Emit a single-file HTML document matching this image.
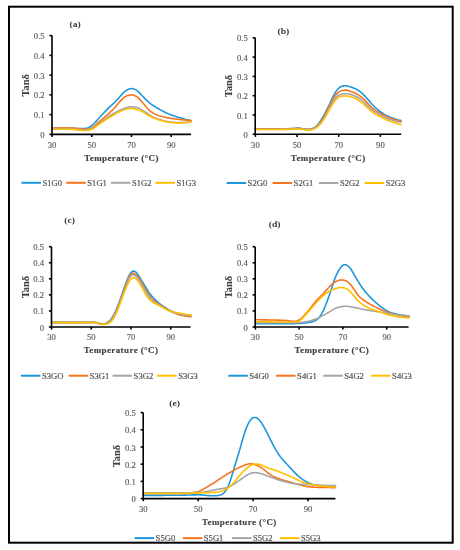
<!DOCTYPE html>
<html><head><meta charset="utf-8"><style>
html,body{margin:0;padding:0;background:#fff;width:460px;height:550px;overflow:hidden}
svg{display:block}
.tk{font-family:"Liberation Serif",serif;font-size:8.6px;fill:#595959;stroke:#595959;stroke-width:0.15px}
.ti{font-family:"Liberation Serif",serif;font-size:9.0px;font-weight:bold;letter-spacing:0.4px;fill:#404040;stroke:#404040;stroke-width:0.15px}
.tn{font-family:"Liberation Serif",serif;font-size:10.3px;font-weight:bold;fill:#404040;stroke:#404040;stroke-width:0.1px}
.lb{font-family:"Liberation Serif",serif;font-size:9.7px;font-weight:bold;fill:#3a3a3a}
.lg{font-family:"Liberation Serif",serif;font-size:8.6px;fill:#595959;stroke:#595959;stroke-width:0.22px}
</style></head><body>
<svg width="460" height="550" viewBox="0 0 460 550">
<defs><filter id="bl" x="0" y="0" width="460" height="550" filterUnits="userSpaceOnUse"><feGaussianBlur stdDeviation="0.4"/></filter></defs>
<g filter="url(#bl)">
<rect x="0" y="0" width="460" height="550" fill="#fff"/>
<path d="M52.00 128.29L53.00 128.28L54.00 128.27L55.00 128.25L56.00 128.24L57.00 128.23L58.00 128.22L59.00 128.21L60.00 128.21L61.00 128.20L62.00 128.20L63.00 128.20L64.00 128.21L65.00 128.21L66.00 128.22L67.00 128.23L68.00 128.24L69.00 128.26L70.00 128.27L71.00 128.29L72.00 128.31L73.00 128.34L74.00 128.37L75.00 128.42L76.00 128.46L77.00 128.51L78.00 128.55L79.00 128.57L80.00 128.58L81.00 128.58L82.00 128.56L83.00 128.53L84.00 128.49L85.00 128.42L86.00 128.29L87.00 128.07L88.00 127.73L89.00 127.28L90.00 126.73L91.00 126.09L92.00 125.34L93.00 124.48L94.00 123.51L95.00 122.46L96.00 121.36L97.00 120.26L98.00 119.17L99.00 118.08L100.00 116.99L101.00 115.90L102.00 114.82L103.00 113.75L104.00 112.69L105.00 111.65L106.00 110.62L107.00 109.60L108.00 108.60L109.00 107.61L110.00 106.65L111.00 105.72L112.00 104.81L113.00 103.90L114.00 102.98L115.00 102.03L116.00 101.03L117.00 99.96L118.00 98.84L119.00 97.68L120.00 96.52L121.00 95.36L122.00 94.24L123.00 93.17L124.00 92.20L125.00 91.33L126.00 90.57L127.00 89.93L128.00 89.42L129.00 89.05L130.00 88.80L131.00 88.67L132.00 88.65L133.00 88.76L134.00 89.00L135.00 89.38L136.00 89.92L137.00 90.61L138.00 91.44L139.00 92.36L140.00 93.34L141.00 94.37L142.00 95.43L143.00 96.52L144.00 97.60L145.00 98.64L146.00 99.65L147.00 100.61L148.00 101.53L149.00 102.41L150.00 103.24L151.00 104.02L152.00 104.76L153.00 105.46L154.00 106.13L155.00 106.77L156.00 107.37L157.00 107.96L158.00 108.52L159.00 109.06L160.00 109.60L161.00 110.13L162.00 110.65L163.00 111.18L164.00 111.69L165.00 112.20L166.00 112.69L167.00 113.17L168.00 113.63L169.00 114.06L170.00 114.48L171.00 114.87L172.00 115.24L173.00 115.60L174.00 115.94L175.00 116.27L176.00 116.59L177.00 116.90L178.00 117.21L179.00 117.50L180.00 117.79L181.00 118.08L182.00 118.36L183.00 118.63L184.00 118.90L185.00 119.16L186.00 119.42L187.00 119.67L188.00 119.91L189.00 120.13L190.00 120.33L191.00 120.47" fill="none" stroke="#1E98DA" stroke-width="1.60" stroke-linejoin="round" stroke-linecap="round"/>
<path d="M52.00 128.00L53.00 128.00L54.00 128.00L55.00 128.00L56.00 128.00L57.00 128.00L58.00 128.00L59.00 128.00L60.00 128.00L61.00 128.00L62.00 128.00L63.00 128.00L64.00 128.00L65.00 128.00L66.00 128.00L67.00 128.00L68.00 128.00L69.00 128.00L70.00 128.00L71.00 128.01L72.00 128.02L73.00 128.06L74.00 128.12L75.00 128.21L76.00 128.31L77.00 128.43L78.00 128.56L79.00 128.68L80.00 128.80L81.00 128.92L82.00 129.04L83.00 129.16L84.00 129.27L85.00 129.36L86.00 129.41L87.00 129.39L88.00 129.28L89.00 129.07L90.00 128.76L91.00 128.35L92.00 127.83L93.00 127.17L94.00 126.36L95.00 125.46L96.00 124.51L97.00 123.57L98.00 122.68L99.00 121.82L100.00 120.99L101.00 120.16L102.00 119.33L103.00 118.49L104.00 117.65L105.00 116.79L106.00 115.92L107.00 115.05L108.00 114.17L109.00 113.28L110.00 112.38L111.00 111.46L112.00 110.51L113.00 109.52L114.00 108.49L115.00 107.40L116.00 106.23L117.00 105.01L118.00 103.76L119.00 102.55L120.00 101.40L121.00 100.33L122.00 99.34L123.00 98.43L124.00 97.62L125.00 96.91L126.00 96.30L127.00 95.79L128.00 95.40L129.00 95.13L130.00 94.97L131.00 94.91L132.00 94.93L133.00 95.05L134.00 95.29L135.00 95.67L136.00 96.19L137.00 96.86L138.00 97.67L139.00 98.59L140.00 99.59L141.00 100.67L142.00 101.83L143.00 103.03L144.00 104.26L145.00 105.48L146.00 106.67L147.00 107.84L148.00 108.94L149.00 109.95L150.00 110.85L151.00 111.63L152.00 112.31L153.00 112.91L154.00 113.46L155.00 113.96L156.00 114.43L157.00 114.87L158.00 115.27L159.00 115.64L160.00 115.96L161.00 116.26L162.00 116.53L163.00 116.79L164.00 117.02L165.00 117.25L166.00 117.46L167.00 117.66L168.00 117.84L169.00 118.02L170.00 118.19L171.00 118.35L172.00 118.50L173.00 118.64L174.00 118.78L175.00 118.91L176.00 119.03L177.00 119.15L178.00 119.27L179.00 119.38L180.00 119.50L181.00 119.61L182.00 119.72L183.00 119.83L184.00 119.93L185.00 120.04L186.00 120.14L187.00 120.23L188.00 120.33L189.00 120.42L190.00 120.49L191.00 120.55" fill="none" stroke="#F7751E" stroke-width="1.60" stroke-linejoin="round" stroke-linecap="round"/>
<path d="M52.00 129.00L53.00 129.00L54.00 129.00L55.00 129.00L56.00 129.00L57.00 129.00L58.00 129.00L59.00 129.00L60.00 129.00L61.00 129.00L62.00 129.00L63.00 129.00L64.00 129.00L65.00 129.00L66.00 129.00L67.00 129.00L68.00 129.00L69.00 129.00L70.00 129.00L71.00 129.01L72.00 129.03L73.00 129.07L74.00 129.14L75.00 129.24L76.00 129.36L77.00 129.49L78.00 129.60L79.00 129.70L80.00 129.78L81.00 129.83L82.00 129.88L83.00 129.92L84.00 129.94L85.00 129.96L86.00 129.96L87.00 129.93L88.00 129.83L89.00 129.66L90.00 129.41L91.00 129.08L92.00 128.65L93.00 128.10L94.00 127.43L95.00 126.66L96.00 125.85L97.00 125.05L98.00 124.26L99.00 123.50L100.00 122.75L101.00 122.00L102.00 121.26L103.00 120.53L104.00 119.82L105.00 119.11L106.00 118.41L107.00 117.71L108.00 117.02L109.00 116.33L110.00 115.66L111.00 115.00L112.00 114.37L113.00 113.76L114.00 113.18L115.00 112.63L116.00 112.10L117.00 111.59L118.00 111.09L119.00 110.62L120.00 110.16L121.00 109.72L122.00 109.31L123.00 108.92L124.00 108.55L125.00 108.21L126.00 107.88L127.00 107.56L128.00 107.27L129.00 107.04L130.00 106.88L131.00 106.80L132.00 106.79L133.00 106.84L134.00 106.95L135.00 107.09L136.00 107.28L137.00 107.54L138.00 107.89L139.00 108.32L140.00 108.83L141.00 109.40L142.00 110.01L143.00 110.64L144.00 111.28L145.00 111.92L146.00 112.59L147.00 113.27L148.00 113.95L149.00 114.61L150.00 115.24L151.00 115.82L152.00 116.36L153.00 116.86L154.00 117.33L155.00 117.77L156.00 118.18L157.00 118.57L158.00 118.93L159.00 119.27L160.00 119.58L161.00 119.88L162.00 120.16L163.00 120.44L164.00 120.70L165.00 120.96L166.00 121.19L167.00 121.40L168.00 121.58L169.00 121.74L170.00 121.88L171.00 122.00L172.00 122.10L173.00 122.20L174.00 122.29L175.00 122.37L176.00 122.44L177.00 122.50L178.00 122.54L179.00 122.57L180.00 122.58L181.00 122.57L182.00 122.54L183.00 122.49L184.00 122.42L185.00 122.34L186.00 122.24L187.00 122.12L188.00 121.98L189.00 121.84L190.00 121.71L191.00 121.60" fill="none" stroke="#A5A5A5" stroke-width="1.60" stroke-linejoin="round" stroke-linecap="round"/>
<path d="M52.00 129.30L53.00 129.30L54.00 129.30L55.00 129.30L56.00 129.30L57.00 129.30L58.00 129.30L59.00 129.30L60.00 129.30L61.00 129.30L62.00 129.30L63.00 129.30L64.00 129.30L65.00 129.30L66.00 129.30L67.00 129.30L68.00 129.30L69.00 129.30L70.00 129.30L71.00 129.31L72.00 129.33L73.00 129.38L74.00 129.46L75.00 129.57L76.00 129.70L77.00 129.83L78.00 129.97L79.00 130.08L80.00 130.18L81.00 130.25L82.00 130.32L83.00 130.37L84.00 130.41L85.00 130.45L86.00 130.45L87.00 130.42L88.00 130.31L89.00 130.12L90.00 129.86L91.00 129.51L92.00 129.09L93.00 128.57L94.00 127.96L95.00 127.28L96.00 126.55L97.00 125.82L98.00 125.10L99.00 124.39L100.00 123.68L101.00 122.96L102.00 122.26L103.00 121.56L104.00 120.88L105.00 120.22L106.00 119.57L107.00 118.92L108.00 118.29L109.00 117.67L110.00 117.06L111.00 116.46L112.00 115.88L113.00 115.31L114.00 114.75L115.00 114.20L116.00 113.66L117.00 113.12L118.00 112.58L119.00 112.05L120.00 111.54L121.00 111.06L122.00 110.61L123.00 110.21L124.00 109.85L125.00 109.54L126.00 109.26L127.00 109.02L128.00 108.81L129.00 108.64L130.00 108.53L131.00 108.49L132.00 108.53L133.00 108.63L134.00 108.80L135.00 109.03L136.00 109.30L137.00 109.60L138.00 109.93L139.00 110.27L140.00 110.65L141.00 111.07L142.00 111.55L143.00 112.08L144.00 112.66L145.00 113.28L146.00 113.91L147.00 114.54L148.00 115.15L149.00 115.72L150.00 116.25L151.00 116.75L152.00 117.22L153.00 117.66L154.00 118.08L155.00 118.48L156.00 118.86L157.00 119.22L158.00 119.56L159.00 119.88L160.00 120.18L161.00 120.47L162.00 120.74L163.00 121.01L164.00 121.26L165.00 121.50L166.00 121.73L167.00 121.93L168.00 122.10L169.00 122.25L170.00 122.38L171.00 122.48L172.00 122.58L173.00 122.66L174.00 122.74L175.00 122.81L176.00 122.87L177.00 122.92L178.00 122.95L179.00 122.97L180.00 122.98L181.00 122.96L182.00 122.93L183.00 122.88L184.00 122.80L185.00 122.71L186.00 122.59L187.00 122.46L188.00 122.32L189.00 122.16L190.00 122.02L191.00 121.91" fill="none" stroke="#FFBF00" stroke-width="1.60" stroke-linejoin="round" stroke-linecap="round"/>
<path d="M52.00 35.60 V134.40 H191.09" fill="none" stroke="#000" stroke-width="1.60"/>
<path d="M49.40 134.40 H52.00" stroke="#000" stroke-width="1.60"/>
<text transform="translate(44.60 137.90) scale(1 1.0)" text-anchor="end" class="tk">0</text>
<path d="M49.40 114.64 H52.00" stroke="#000" stroke-width="1.60"/>
<text transform="translate(44.60 118.14) scale(1 1.0)" text-anchor="end" class="tk">0.1</text>
<path d="M49.40 94.88 H52.00" stroke="#000" stroke-width="1.60"/>
<text transform="translate(44.60 98.38) scale(1 1.0)" text-anchor="end" class="tk">0.2</text>
<path d="M49.40 75.12 H52.00" stroke="#000" stroke-width="1.60"/>
<text transform="translate(44.60 78.62) scale(1 1.0)" text-anchor="end" class="tk">0.3</text>
<path d="M49.40 55.36 H52.00" stroke="#000" stroke-width="1.60"/>
<text transform="translate(44.60 58.86) scale(1 1.0)" text-anchor="end" class="tk">0.4</text>
<path d="M49.40 35.60 H52.00" stroke="#000" stroke-width="1.60"/>
<text transform="translate(44.60 39.10) scale(1 1.0)" text-anchor="end" class="tk">0.5</text>
<path d="M52.00 134.40 V137.00" stroke="#000" stroke-width="1.60"/>
<text transform="translate(52.00 147.60) scale(1 1.0)" text-anchor="middle" class="tk">30</text>
<path d="M91.74 134.40 V137.00" stroke="#000" stroke-width="1.60"/>
<text transform="translate(91.74 147.60) scale(1 1.0)" text-anchor="middle" class="tk">50</text>
<path d="M131.48 134.40 V137.00" stroke="#000" stroke-width="1.60"/>
<text transform="translate(131.48 147.60) scale(1 1.0)" text-anchor="middle" class="tk">70</text>
<path d="M171.22 134.40 V137.00" stroke="#000" stroke-width="1.60"/>
<text transform="translate(171.22 147.60) scale(1 1.0)" text-anchor="middle" class="tk">90</text>
<text transform="translate(121.55 160.90) scale(1 1.0)" text-anchor="middle" class="ti">Temperature (°C)</text>
<text transform="translate(28.90 85.30) rotate(-90)" text-anchor="middle" class="tn">Tan&#948;</text>
<text transform="translate(69.50 27.00) scale(1 0.95)" class="lb">(a)</text>
<path d="M21.50 182.80 H41.00" stroke="#1E98DA" stroke-width="2"/>
<text transform="translate(42.50 185.60) scale(1 1.0)" class="lg">S1G0</text>
<path d="M66.30 182.80 H85.80" stroke="#F7751E" stroke-width="2"/>
<text transform="translate(87.30 185.60) scale(1 1.0)" class="lg">S1G1</text>
<path d="M111.00 182.80 H130.50" stroke="#A5A5A5" stroke-width="2"/>
<text transform="translate(132.00 185.60) scale(1 1.0)" class="lg">S1G2</text>
<path d="M155.40 182.80 H174.90" stroke="#FFBF00" stroke-width="2"/>
<text transform="translate(176.40 185.60) scale(1 1.0)" class="lg">S1G3</text>
<path d="M255.40 128.80L256.40 128.80L257.40 128.80L258.40 128.80L259.40 128.80L260.40 128.80L261.40 128.80L262.40 128.80L263.40 128.80L264.40 128.80L265.40 128.80L266.40 128.80L267.40 128.80L268.40 128.80L269.40 128.80L270.40 128.80L271.40 128.80L272.40 128.80L273.40 128.80L274.40 128.80L275.40 128.80L276.40 128.80L277.40 128.79L278.40 128.79L279.40 128.79L280.40 128.78L281.40 128.77L282.40 128.76L283.40 128.75L284.40 128.74L285.40 128.72L286.40 128.71L287.40 128.69L288.40 128.68L289.40 128.65L290.40 128.63L291.40 128.60L292.40 128.54L293.40 128.46L294.40 128.35L295.40 128.24L296.40 128.15L297.40 128.10L298.40 128.11L299.40 128.20L300.40 128.34L301.40 128.51L302.40 128.67L303.40 128.82L304.40 128.95L305.40 129.06L306.40 129.14L307.40 129.21L308.40 129.22L309.40 129.17L310.40 129.04L311.40 128.81L312.40 128.49L313.40 128.07L314.40 127.55L315.40 126.87L316.40 126.02L317.40 124.97L318.40 123.77L319.40 122.45L320.40 121.04L321.40 119.53L322.40 117.91L323.40 116.21L324.40 114.43L325.40 112.59L326.40 110.68L327.40 108.70L328.40 106.65L329.40 104.51L330.40 102.30L331.40 100.07L332.40 97.92L333.40 95.90L334.40 94.04L335.40 92.36L336.40 90.87L337.40 89.60L338.40 88.54L339.40 87.69L340.40 87.00L341.40 86.47L342.40 86.11L343.40 85.88L344.40 85.75L345.40 85.71L346.40 85.76L347.40 85.93L348.40 86.21L349.40 86.55L350.40 86.91L351.40 87.26L352.40 87.61L353.40 87.97L354.40 88.36L355.40 88.79L356.40 89.29L357.40 89.85L358.40 90.49L359.40 91.19L360.40 91.94L361.40 92.76L362.40 93.63L363.40 94.57L364.40 95.58L365.40 96.64L366.40 97.73L367.40 98.84L368.40 99.97L369.40 101.12L370.40 102.28L371.40 103.43L372.40 104.55L373.40 105.61L374.40 106.61L375.40 107.54L376.40 108.42L377.40 109.25L378.40 110.05L379.40 110.83L380.40 111.58L381.40 112.31L382.40 113.01L383.40 113.69L384.40 114.32L385.40 114.91L386.40 115.46L387.40 115.96L388.40 116.43L389.40 116.86L390.40 117.27L391.40 117.66L392.40 118.03L393.40 118.38L394.40 118.72L395.40 119.05L396.40 119.36L397.40 119.65L398.40 119.93L399.40 120.17L400.40 120.37L401.00 120.50" fill="none" stroke="#1E98DA" stroke-width="1.60" stroke-linejoin="round" stroke-linecap="round"/>
<path d="M255.40 129.00L256.40 129.00L257.40 129.00L258.40 129.00L259.40 129.00L260.40 129.00L261.40 129.00L262.40 129.00L263.40 129.00L264.40 129.00L265.40 129.00L266.40 129.00L267.40 129.00L268.40 129.00L269.40 129.00L270.40 129.00L271.40 129.00L272.40 129.00L273.40 129.00L274.40 129.00L275.40 129.00L276.40 129.00L277.40 128.99L278.40 128.99L279.40 128.99L280.40 128.98L281.40 128.97L282.40 128.96L283.40 128.95L284.40 128.94L285.40 128.92L286.40 128.91L287.40 128.89L288.40 128.88L289.40 128.85L290.40 128.83L291.40 128.80L292.40 128.74L293.40 128.66L294.40 128.55L295.40 128.44L296.40 128.35L297.40 128.30L298.40 128.31L299.40 128.39L300.40 128.53L301.40 128.70L302.40 128.88L303.40 129.03L304.40 129.18L305.40 129.30L306.40 129.41L307.40 129.49L308.40 129.52L309.40 129.48L310.40 129.37L311.40 129.16L312.40 128.88L313.40 128.51L314.40 128.04L315.40 127.43L316.40 126.66L317.40 125.71L318.40 124.62L319.40 123.41L320.40 122.11L321.40 120.71L322.40 119.20L323.40 117.59L324.40 115.88L325.40 114.07L326.40 112.17L327.40 110.20L328.40 108.18L329.40 106.14L330.40 104.08L331.40 102.06L332.40 100.14L333.40 98.38L334.40 96.79L335.40 95.38L336.40 94.15L337.40 93.12L338.40 92.29L339.40 91.63L340.40 91.12L341.40 90.73L342.40 90.45L343.40 90.26L344.40 90.15L345.40 90.11L346.40 90.16L347.40 90.33L348.40 90.61L349.40 90.95L350.40 91.32L351.40 91.68L352.40 92.05L353.40 92.43L354.40 92.83L355.40 93.28L356.40 93.77L357.40 94.32L358.40 94.93L359.40 95.60L360.40 96.32L361.40 97.09L362.40 97.92L363.40 98.82L364.40 99.79L365.40 100.80L366.40 101.83L367.40 102.88L368.40 103.93L369.40 104.98L370.40 106.03L371.40 107.05L372.40 108.02L373.40 108.89L374.40 109.68L375.40 110.37L376.40 110.99L377.40 111.56L378.40 112.12L379.40 112.69L380.40 113.26L381.40 113.86L382.40 114.46L383.40 115.05L384.40 115.62L385.40 116.15L386.40 116.64L387.40 117.08L388.40 117.50L389.40 117.88L390.40 118.24L391.40 118.59L392.40 118.91L393.40 119.23L394.40 119.53L395.40 119.82L396.40 120.09L397.40 120.36L398.40 120.60L399.40 120.82L400.40 120.99L401.00 121.11" fill="none" stroke="#F7751E" stroke-width="1.60" stroke-linejoin="round" stroke-linecap="round"/>
<path d="M255.40 129.20L256.40 129.20L257.40 129.20L258.40 129.20L259.40 129.20L260.40 129.20L261.40 129.20L262.40 129.20L263.40 129.20L264.40 129.20L265.40 129.20L266.40 129.20L267.40 129.20L268.40 129.20L269.40 129.20L270.40 129.20L271.40 129.20L272.40 129.20L273.40 129.20L274.40 129.20L275.40 129.20L276.40 129.20L277.40 129.19L278.40 129.19L279.40 129.18L280.40 129.18L281.40 129.17L282.40 129.16L283.40 129.15L284.40 129.14L285.40 129.12L286.40 129.11L287.40 129.09L288.40 129.07L289.40 129.05L290.40 129.03L291.40 129.00L292.40 128.95L293.40 128.88L294.40 128.79L295.40 128.70L296.40 128.62L297.40 128.58L298.40 128.59L299.40 128.67L300.40 128.79L301.40 128.94L302.40 129.09L303.40 129.24L304.40 129.37L305.40 129.50L306.40 129.61L307.40 129.68L308.40 129.72L309.40 129.69L310.40 129.58L311.40 129.39L312.40 129.12L313.40 128.78L314.40 128.34L315.40 127.79L316.40 127.09L317.40 126.24L318.40 125.25L319.40 124.16L320.40 122.96L321.40 121.65L322.40 120.23L323.40 118.71L324.40 117.10L325.40 115.40L326.40 113.62L327.40 111.78L328.40 109.90L329.40 108.00L330.40 106.09L331.40 104.23L332.40 102.47L333.40 100.87L334.40 99.44L335.40 98.19L336.40 97.11L337.40 96.21L338.40 95.49L339.40 94.93L340.40 94.49L341.40 94.16L342.40 93.93L343.40 93.78L344.40 93.70L345.40 93.66L346.40 93.68L347.40 93.76L348.40 93.90L349.40 94.10L350.40 94.35L351.40 94.64L352.40 94.98L353.40 95.37L354.40 95.79L355.40 96.25L356.40 96.75L357.40 97.28L358.40 97.87L359.40 98.50L360.40 99.18L361.40 99.91L362.40 100.70L363.40 101.56L364.40 102.48L365.40 103.44L366.40 104.42L367.40 105.41L368.40 106.39L369.40 107.37L370.40 108.33L371.40 109.27L372.40 110.15L373.40 110.95L374.40 111.65L375.40 112.26L376.40 112.81L377.40 113.32L378.40 113.82L379.40 114.33L380.40 114.87L381.40 115.43L382.40 116.02L383.40 116.60L384.40 117.15L385.40 117.65L386.40 118.10L387.40 118.50L388.40 118.87L389.40 119.20L390.40 119.51L391.40 119.82L392.40 120.11L393.40 120.41L394.40 120.69L395.40 120.97L396.40 121.24L397.40 121.51L398.40 121.76L399.40 121.99L400.40 122.17L401.00 122.30" fill="none" stroke="#A5A5A5" stroke-width="1.60" stroke-linejoin="round" stroke-linecap="round"/>
<path d="M255.40 129.50L256.40 129.50L257.40 129.50L258.40 129.50L259.40 129.50L260.40 129.50L261.40 129.50L262.40 129.50L263.40 129.50L264.40 129.50L265.40 129.50L266.40 129.50L267.40 129.50L268.40 129.50L269.40 129.50L270.40 129.50L271.40 129.50L272.40 129.50L273.40 129.50L274.40 129.50L275.40 129.50L276.40 129.50L277.40 129.49L278.40 129.49L279.40 129.48L280.40 129.48L281.40 129.47L282.40 129.46L283.40 129.45L284.40 129.44L285.40 129.42L286.40 129.41L287.40 129.39L288.40 129.37L289.40 129.35L290.40 129.33L291.40 129.30L292.40 129.25L293.40 129.18L294.40 129.09L295.40 129.00L296.40 128.92L297.40 128.88L298.40 128.89L299.40 128.96L300.40 129.09L301.40 129.24L302.40 129.39L303.40 129.55L304.40 129.70L305.40 129.84L306.40 129.97L307.40 130.06L308.40 130.11L309.40 130.08L310.40 129.98L311.40 129.78L312.40 129.51L313.40 129.18L314.40 128.77L315.40 128.27L316.40 127.65L317.40 126.91L318.40 126.05L319.40 125.08L320.40 123.98L321.40 122.76L322.40 121.41L323.40 119.96L324.40 118.41L325.40 116.79L326.40 115.09L327.40 113.34L328.40 111.55L329.40 109.73L330.40 107.90L331.40 106.10L332.40 104.40L333.40 102.83L334.40 101.42L335.40 100.17L336.40 99.10L337.40 98.21L338.40 97.52L339.40 96.99L340.40 96.59L341.40 96.30L342.40 96.12L343.40 96.01L344.40 95.96L345.40 95.94L346.40 95.97L347.40 96.06L348.40 96.20L349.40 96.40L350.40 96.65L351.40 96.94L352.40 97.28L353.40 97.66L354.40 98.09L355.40 98.55L356.40 99.07L357.40 99.63L358.40 100.25L359.40 100.92L360.40 101.63L361.40 102.38L362.40 103.17L363.40 104.01L364.40 104.89L365.40 105.80L366.40 106.72L367.40 107.65L368.40 108.58L369.40 109.51L370.40 110.44L371.40 111.35L372.40 112.20L373.40 112.97L374.40 113.65L375.40 114.24L376.40 114.77L377.40 115.27L378.40 115.75L379.40 116.23L380.40 116.73L381.40 117.25L382.40 117.78L383.40 118.30L384.40 118.81L385.40 119.29L386.40 119.73L387.40 120.14L388.40 120.52L389.40 120.89L390.40 121.24L391.40 121.59L392.40 121.94L393.40 122.28L394.40 122.63L395.40 122.97L396.40 123.30L397.40 123.63L398.40 123.95L399.40 124.25L400.40 124.50L401.00 124.66" fill="none" stroke="#FFBF00" stroke-width="1.60" stroke-linejoin="round" stroke-linecap="round"/>
<path d="M255.20 37.80 V134.30 H401.21" fill="none" stroke="#000" stroke-width="1.60"/>
<path d="M252.60 134.30 H255.20" stroke="#000" stroke-width="1.60"/>
<text transform="translate(247.80 137.80) scale(1 1.0)" text-anchor="end" class="tk">0</text>
<path d="M252.60 115.00 H255.20" stroke="#000" stroke-width="1.60"/>
<text transform="translate(247.80 118.50) scale(1 1.0)" text-anchor="end" class="tk">0.1</text>
<path d="M252.60 95.70 H255.20" stroke="#000" stroke-width="1.60"/>
<text transform="translate(247.80 99.20) scale(1 1.0)" text-anchor="end" class="tk">0.2</text>
<path d="M252.60 76.40 H255.20" stroke="#000" stroke-width="1.60"/>
<text transform="translate(247.80 79.90) scale(1 1.0)" text-anchor="end" class="tk">0.3</text>
<path d="M252.60 57.10 H255.20" stroke="#000" stroke-width="1.60"/>
<text transform="translate(247.80 60.60) scale(1 1.0)" text-anchor="end" class="tk">0.4</text>
<path d="M252.60 37.80 H255.20" stroke="#000" stroke-width="1.60"/>
<text transform="translate(247.80 41.30) scale(1 1.0)" text-anchor="end" class="tk">0.5</text>
<path d="M255.40 134.30 V136.90" stroke="#000" stroke-width="1.60"/>
<text transform="translate(255.40 147.50) scale(1 1.0)" text-anchor="middle" class="tk">30</text>
<path d="M297.06 134.30 V136.90" stroke="#000" stroke-width="1.60"/>
<text transform="translate(297.06 147.50) scale(1 1.0)" text-anchor="middle" class="tk">50</text>
<path d="M338.72 134.30 V136.90" stroke="#000" stroke-width="1.60"/>
<text transform="translate(338.72 147.50) scale(1 1.0)" text-anchor="middle" class="tk">70</text>
<path d="M380.38 134.30 V136.90" stroke="#000" stroke-width="1.60"/>
<text transform="translate(380.38 147.50) scale(1 1.0)" text-anchor="middle" class="tk">90</text>
<text transform="translate(328.21 160.90) scale(1 1.0)" text-anchor="middle" class="ti">Temperature (°C)</text>
<text transform="translate(232.30 85.90) rotate(-90)" text-anchor="middle" class="tn">Tan&#948;</text>
<text transform="translate(277.40 34.00) scale(1 0.95)" class="lb">(b)</text>
<path d="M226.60 183.00 H246.10" stroke="#1E98DA" stroke-width="2"/>
<text transform="translate(247.60 185.80) scale(1 1.0)" class="lg">S2G0</text>
<path d="M272.60 183.00 H292.10" stroke="#F7751E" stroke-width="2"/>
<text transform="translate(293.60 185.80) scale(1 1.0)" class="lg">S2G1</text>
<path d="M318.90 183.00 H338.40" stroke="#A5A5A5" stroke-width="2"/>
<text transform="translate(339.90 185.80) scale(1 1.0)" class="lg">S2G2</text>
<path d="M364.70 183.00 H384.20" stroke="#FFBF00" stroke-width="2"/>
<text transform="translate(385.70 185.80) scale(1 1.0)" class="lg">S2G3</text>
<path d="M51.60 322.40L52.60 322.40L53.60 322.40L54.60 322.40L55.60 322.40L56.60 322.40L57.60 322.40L58.60 322.40L59.60 322.40L60.60 322.40L61.60 322.40L62.60 322.40L63.60 322.40L64.60 322.40L65.60 322.40L66.60 322.40L67.60 322.40L68.60 322.40L69.60 322.40L70.60 322.40L71.60 322.40L72.60 322.40L73.60 322.40L74.60 322.40L75.60 322.40L76.60 322.40L77.60 322.40L78.60 322.40L79.60 322.39L80.60 322.39L81.60 322.39L82.60 322.38L83.60 322.38L84.60 322.37L85.60 322.37L86.60 322.36L87.60 322.35L88.60 322.34L89.60 322.33L90.60 322.32L91.60 322.31L92.60 322.29L93.60 322.28L94.60 322.31L95.60 322.42L96.60 322.63L97.60 322.90L98.60 323.18L99.60 323.42L100.60 323.58L101.60 323.67L102.60 323.72L103.60 323.73L104.60 323.67L105.60 323.47L106.60 323.09L107.60 322.50L108.60 321.72L109.60 320.78L110.60 319.68L111.60 318.37L112.60 316.82L113.60 315.05L114.60 313.09L115.60 310.97L116.60 308.71L117.60 306.31L118.60 303.77L119.60 301.11L120.60 298.35L121.60 295.48L122.60 292.54L123.60 289.58L124.60 286.69L125.60 283.91L126.60 281.27L127.60 278.79L128.60 276.54L129.60 274.61L130.60 273.09L131.60 271.99L132.60 271.32L133.60 271.09L134.60 271.31L135.60 271.93L136.60 272.89L137.60 274.14L138.60 275.62L139.60 277.25L140.60 278.92L141.60 280.56L142.60 282.17L143.60 283.78L144.60 285.39L145.60 287.02L146.60 288.66L147.60 290.28L148.60 291.84L149.60 293.29L150.60 294.63L151.60 295.85L152.60 296.98L153.60 298.05L154.60 299.07L155.60 300.06L156.60 301.01L157.60 301.92L158.60 302.80L159.60 303.63L160.60 304.42L161.60 305.16L162.60 305.88L163.60 306.56L164.60 307.23L165.60 307.88L166.60 308.52L167.60 309.14L168.60 309.71L169.60 310.25L170.60 310.73L171.60 311.17L172.60 311.59L173.60 311.98L174.60 312.35L175.60 312.70L176.60 313.03L177.60 313.33L178.60 313.62L179.60 313.88L180.60 314.13L181.60 314.37L182.60 314.59L183.60 314.81L184.60 315.01L185.60 315.21L186.60 315.38L187.60 315.55L188.60 315.69L189.60 315.82L190.60 315.91L191.00 315.96" fill="none" stroke="#1E98DA" stroke-width="1.60" stroke-linejoin="round" stroke-linecap="round"/>
<path d="M51.60 322.50L52.60 322.50L53.60 322.50L54.60 322.50L55.60 322.50L56.60 322.50L57.60 322.50L58.60 322.50L59.60 322.50L60.60 322.50L61.60 322.50L62.60 322.50L63.60 322.50L64.60 322.50L65.60 322.50L66.60 322.50L67.60 322.50L68.60 322.50L69.60 322.50L70.60 322.50L71.60 322.50L72.60 322.50L73.60 322.50L74.60 322.50L75.60 322.50L76.60 322.50L77.60 322.50L78.60 322.50L79.60 322.49L80.60 322.49L81.60 322.49L82.60 322.48L83.60 322.48L84.60 322.47L85.60 322.47L86.60 322.46L87.60 322.45L88.60 322.44L89.60 322.43L90.60 322.42L91.60 322.41L92.60 322.39L93.60 322.38L94.60 322.42L95.60 322.54L96.60 322.76L97.60 323.05L98.60 323.36L99.60 323.60L100.60 323.77L101.60 323.87L102.60 323.92L103.60 323.94L104.60 323.88L105.60 323.71L106.60 323.38L107.60 322.87L108.60 322.19L109.60 321.36L110.60 320.36L111.60 319.14L112.60 317.69L113.60 315.99L114.60 314.10L115.60 312.05L116.60 309.85L117.60 307.50L118.60 305.00L119.60 302.38L120.60 299.65L121.60 296.83L122.60 293.93L123.60 291.01L124.60 288.14L125.60 285.36L126.60 282.69L127.60 280.18L128.60 277.92L129.60 276.05L130.60 274.68L131.60 273.80L132.60 273.36L133.60 273.32L134.60 273.67L135.60 274.35L136.60 275.31L137.60 276.49L138.60 277.87L139.60 279.40L140.60 281.02L141.60 282.69L142.60 284.40L143.60 286.11L144.60 287.82L145.60 289.51L146.60 291.19L147.60 292.83L148.60 294.37L149.60 295.79L150.60 297.07L151.60 298.22L152.60 299.26L153.60 300.21L154.60 301.09L155.60 301.91L156.60 302.66L157.60 303.38L158.60 304.06L159.60 304.74L160.60 305.41L161.60 306.09L162.60 306.75L163.60 307.40L164.60 308.03L165.60 308.63L166.60 309.20L167.60 309.75L168.60 310.28L169.60 310.79L170.60 311.27L171.60 311.74L172.60 312.21L173.60 312.66L174.60 313.10L175.60 313.51L176.60 313.90L177.60 314.26L178.60 314.58L179.60 314.86L180.60 315.12L181.60 315.36L182.60 315.58L183.60 315.79L184.60 315.98L185.60 316.16L186.60 316.33L187.60 316.47L188.60 316.59L189.60 316.68L190.60 316.74L191.00 316.78" fill="none" stroke="#F7751E" stroke-width="1.60" stroke-linejoin="round" stroke-linecap="round"/>
<path d="M51.60 322.60L52.60 322.60L53.60 322.60L54.60 322.60L55.60 322.60L56.60 322.60L57.60 322.60L58.60 322.60L59.60 322.60L60.60 322.60L61.60 322.60L62.60 322.60L63.60 322.60L64.60 322.60L65.60 322.60L66.60 322.60L67.60 322.60L68.60 322.60L69.60 322.60L70.60 322.60L71.60 322.60L72.60 322.60L73.60 322.60L74.60 322.60L75.60 322.60L76.60 322.60L77.60 322.60L78.60 322.60L79.60 322.59L80.60 322.59L81.60 322.59L82.60 322.58L83.60 322.58L84.60 322.57L85.60 322.57L86.60 322.56L87.60 322.55L88.60 322.54L89.60 322.53L90.60 322.52L91.60 322.51L92.60 322.49L93.60 322.48L94.60 322.52L95.60 322.65L96.60 322.89L97.60 323.21L98.60 323.53L99.60 323.79L100.60 323.97L101.60 324.07L102.60 324.12L103.60 324.14L104.60 324.09L105.60 323.94L106.60 323.64L107.60 323.17L108.60 322.55L109.60 321.78L110.60 320.86L111.60 319.74L112.60 318.38L113.60 316.78L114.60 314.98L115.60 313.00L116.60 310.85L117.60 308.51L118.60 306.01L119.60 303.39L120.60 300.70L121.60 297.93L122.60 295.12L123.60 292.30L124.60 289.52L125.60 286.81L126.60 284.19L127.60 281.69L128.60 279.43L129.60 277.56L130.60 276.19L131.60 275.30L132.60 274.86L133.60 274.82L134.60 275.17L135.60 275.85L136.60 276.81L137.60 277.99L138.60 279.37L139.60 280.90L140.60 282.52L141.60 284.19L142.60 285.90L143.60 287.61L144.60 289.32L145.60 291.03L146.60 292.72L147.60 294.36L148.60 295.90L149.60 297.28L150.60 298.50L151.60 299.56L152.60 300.51L153.60 301.36L154.60 302.14L155.60 302.84L156.60 303.50L157.60 304.11L158.60 304.70L159.60 305.28L160.60 305.88L161.60 306.48L162.60 307.08L163.60 307.68L164.60 308.25L165.60 308.81L166.60 309.35L167.60 309.86L168.60 310.34L169.60 310.79L170.60 311.21L171.60 311.61L172.60 311.99L173.60 312.35L174.60 312.69L175.60 313.02L176.60 313.32L177.60 313.60L178.60 313.86L179.60 314.09L180.60 314.31L181.60 314.51L182.60 314.70L183.60 314.88L184.60 315.04L185.60 315.20L186.60 315.35L187.60 315.47L188.60 315.59L189.60 315.67L190.60 315.74L191.00 315.77" fill="none" stroke="#A5A5A5" stroke-width="1.60" stroke-linejoin="round" stroke-linecap="round"/>
<path d="M51.60 322.60L52.60 322.60L53.60 322.60L54.60 322.60L55.60 322.60L56.60 322.60L57.60 322.60L58.60 322.60L59.60 322.60L60.60 322.60L61.60 322.60L62.60 322.60L63.60 322.60L64.60 322.60L65.60 322.60L66.60 322.60L67.60 322.60L68.60 322.60L69.60 322.60L70.60 322.60L71.60 322.60L72.60 322.60L73.60 322.60L74.60 322.60L75.60 322.60L76.60 322.60L77.60 322.60L78.60 322.60L79.60 322.59L80.60 322.59L81.60 322.59L82.60 322.58L83.60 322.58L84.60 322.57L85.60 322.57L86.60 322.56L87.60 322.55L88.60 322.54L89.60 322.53L90.60 322.52L91.60 322.51L92.60 322.49L93.60 322.49L94.60 322.53L95.60 322.68L96.60 322.95L97.60 323.31L98.60 323.67L99.60 323.96L100.60 324.16L101.60 324.27L102.60 324.33L103.60 324.35L104.60 324.32L105.60 324.23L106.60 324.03L107.60 323.72L108.60 323.28L109.60 322.72L110.60 322.00L111.60 321.05L112.60 319.82L113.60 318.33L114.60 316.60L115.60 314.66L116.60 312.51L117.60 310.15L118.60 307.61L119.60 304.95L120.60 302.25L121.60 299.52L122.60 296.78L123.60 294.08L124.60 291.48L125.60 289.01L126.60 286.71L127.60 284.56L128.60 282.60L129.60 280.89L130.60 279.47L131.60 278.41L132.60 277.77L133.60 277.61L134.60 277.88L135.60 278.50L136.60 279.38L137.60 280.51L138.60 281.87L139.60 283.42L140.60 285.11L141.60 286.87L142.60 288.68L143.60 290.48L144.60 292.26L145.60 293.98L146.60 295.65L147.60 297.21L148.60 298.62L149.60 299.80L150.60 300.77L151.60 301.54L152.60 302.18L153.60 302.75L154.60 303.28L155.60 303.80L156.60 304.30L157.60 304.80L158.60 305.31L159.60 305.83L160.60 306.39L161.60 306.98L162.60 307.59L163.60 308.18L164.60 308.73L165.60 309.23L166.60 309.69L167.60 310.11L168.60 310.49L169.60 310.84L170.60 311.15L171.60 311.44L172.60 311.70L173.60 311.95L174.60 312.19L175.60 312.41L176.60 312.63L177.60 312.83L178.60 313.03L179.60 313.22L180.60 313.41L181.60 313.59L182.60 313.76L183.60 313.93L184.60 314.10L185.60 314.26L186.60 314.41L187.60 314.55L188.60 314.69L189.60 314.81L190.60 314.90L191.00 314.96" fill="none" stroke="#FFBF00" stroke-width="1.60" stroke-linejoin="round" stroke-linecap="round"/>
<path d="M51.50 246.70 V327.00 H190.55" fill="none" stroke="#000" stroke-width="1.60"/>
<path d="M48.90 327.00 H51.50" stroke="#000" stroke-width="1.60"/>
<text transform="translate(44.10 330.50) scale(1 1.0)" text-anchor="end" class="tk">0</text>
<path d="M48.90 310.94 H51.50" stroke="#000" stroke-width="1.60"/>
<text transform="translate(44.10 314.44) scale(1 1.0)" text-anchor="end" class="tk">0.1</text>
<path d="M48.90 294.88 H51.50" stroke="#000" stroke-width="1.60"/>
<text transform="translate(44.10 298.38) scale(1 1.0)" text-anchor="end" class="tk">0.2</text>
<path d="M48.90 278.82 H51.50" stroke="#000" stroke-width="1.60"/>
<text transform="translate(44.10 282.32) scale(1 1.0)" text-anchor="end" class="tk">0.3</text>
<path d="M48.90 262.76 H51.50" stroke="#000" stroke-width="1.60"/>
<text transform="translate(44.10 266.26) scale(1 1.0)" text-anchor="end" class="tk">0.4</text>
<path d="M48.90 246.70 H51.50" stroke="#000" stroke-width="1.60"/>
<text transform="translate(44.10 250.20) scale(1 1.0)" text-anchor="end" class="tk">0.5</text>
<path d="M51.60 327.00 V329.60" stroke="#000" stroke-width="1.60"/>
<text transform="translate(51.60 340.20) scale(1 1.0)" text-anchor="middle" class="tk">30</text>
<path d="M91.30 327.00 V329.60" stroke="#000" stroke-width="1.60"/>
<text transform="translate(91.30 340.20) scale(1 1.0)" text-anchor="middle" class="tk">50</text>
<path d="M131.00 327.00 V329.60" stroke="#000" stroke-width="1.60"/>
<text transform="translate(131.00 340.20) scale(1 1.0)" text-anchor="middle" class="tk">70</text>
<path d="M170.70 327.00 V329.60" stroke="#000" stroke-width="1.60"/>
<text transform="translate(170.70 340.20) scale(1 1.0)" text-anchor="middle" class="tk">90</text>
<text transform="translate(121.03 353.30) scale(1 1.0)" text-anchor="middle" class="ti">Temperature (°C)</text>
<text transform="translate(28.90 287.00) rotate(-90)" text-anchor="middle" class="tn">Tan&#948;</text>
<text transform="translate(64.30 222.80) scale(1 0.95)" class="lb">(c)</text>
<path d="M20.90 375.70 H40.40" stroke="#1E98DA" stroke-width="2"/>
<text transform="translate(41.90 378.50) scale(1 1.0)" class="lg">S3GO</text>
<path d="M68.70 375.70 H88.20" stroke="#F7751E" stroke-width="2"/>
<text transform="translate(89.70 378.50) scale(1 1.0)" class="lg">S3G1</text>
<path d="M112.60 375.70 H132.10" stroke="#A5A5A5" stroke-width="2"/>
<text transform="translate(133.60 378.50) scale(1 1.0)" class="lg">S3G2</text>
<path d="M157.20 375.70 H176.70" stroke="#FFBF00" stroke-width="2"/>
<text transform="translate(178.20 378.50) scale(1 1.0)" class="lg">S3G3</text>
<path d="M255.40 323.70L256.40 323.69L257.40 323.69L258.40 323.68L259.40 323.67L260.40 323.67L261.40 323.66L262.40 323.66L263.40 323.65L264.40 323.65L265.40 323.64L266.40 323.64L267.40 323.63L268.40 323.63L269.40 323.62L270.40 323.62L271.40 323.62L272.40 323.61L273.40 323.61L274.40 323.61L275.40 323.61L276.40 323.60L277.40 323.60L278.40 323.60L279.40 323.60L280.40 323.60L281.40 323.60L282.40 323.60L283.40 323.60L284.40 323.60L285.40 323.60L286.40 323.60L287.40 323.60L288.40 323.60L289.40 323.60L290.40 323.60L291.40 323.60L292.40 323.60L293.40 323.60L294.40 323.59L295.40 323.58L296.40 323.56L297.40 323.52L298.40 323.47L299.40 323.41L300.40 323.33L301.40 323.24L302.40 323.15L303.40 323.05L304.40 322.95L305.40 322.85L306.40 322.73L307.40 322.60L308.40 322.45L309.40 322.29L310.40 322.12L311.40 321.92L312.40 321.70L313.40 321.43L314.40 321.08L315.40 320.61L316.40 319.98L317.40 319.17L318.40 318.19L319.40 317.04L320.40 315.70L321.40 314.14L322.40 312.36L323.40 310.36L324.40 308.16L325.40 305.78L326.40 303.24L327.40 300.60L328.40 297.86L329.40 295.05L330.40 292.12L331.40 289.07L332.40 285.93L333.40 282.80L334.40 279.85L335.40 277.21L336.40 274.90L337.40 272.86L338.40 271.03L339.40 269.38L340.40 267.92L341.40 266.68L342.40 265.72L343.40 265.08L344.40 264.79L345.40 264.81L346.40 265.08L347.40 265.57L348.40 266.30L349.40 267.29L350.40 268.52L351.40 269.95L352.40 271.54L353.40 273.27L354.40 275.05L355.40 276.84L356.40 278.60L357.40 280.31L358.40 281.96L359.40 283.55L360.40 285.09L361.40 286.57L362.40 287.99L363.40 289.34L364.40 290.64L365.40 291.88L366.40 293.06L367.40 294.20L368.40 295.29L369.40 296.35L370.40 297.38L371.40 298.38L372.40 299.36L373.40 300.32L374.40 301.26L375.40 302.17L376.40 303.05L377.40 303.91L378.40 304.73L379.40 305.52L380.40 306.28L381.40 307.03L382.40 307.77L383.40 308.49L384.40 309.18L385.40 309.85L386.40 310.47L387.40 311.04L388.40 311.55L389.40 312.00L390.40 312.39L391.40 312.74L392.40 313.06L393.40 313.35L394.40 313.62L395.40 313.87L396.40 314.10L397.40 314.31L398.40 314.50L399.40 314.69L400.40 314.86L401.40 315.01L402.40 315.17L403.40 315.31L404.40 315.44L405.40 315.56L406.40 315.67L407.40 315.76L408.40 315.82L409.00 315.87" fill="none" stroke="#1E98DA" stroke-width="1.60" stroke-linejoin="round" stroke-linecap="round"/>
<path d="M255.40 319.80L256.40 319.80L257.40 319.80L258.40 319.81L259.40 319.81L260.40 319.82L261.40 319.83L262.40 319.84L263.40 319.85L264.40 319.86L265.40 319.88L266.40 319.89L267.40 319.91L268.40 319.93L269.40 319.95L270.40 319.97L271.40 319.99L272.40 320.01L273.40 320.03L274.40 320.06L275.40 320.09L276.40 320.11L277.40 320.14L278.40 320.17L279.40 320.21L280.40 320.24L281.40 320.27L282.40 320.31L283.40 320.34L284.40 320.39L285.40 320.45L286.40 320.52L287.40 320.62L288.40 320.74L289.40 320.86L290.40 320.99L291.40 321.12L292.40 321.22L293.40 321.29L294.40 321.30L295.40 321.22L296.40 321.03L297.40 320.71L298.40 320.27L299.40 319.72L300.40 319.06L301.40 318.25L302.40 317.31L303.40 316.27L304.40 315.18L305.40 314.07L306.40 312.96L307.40 311.83L308.40 310.67L309.40 309.47L310.40 308.21L311.40 306.90L312.40 305.55L313.40 304.22L314.40 302.95L315.40 301.76L316.40 300.66L317.40 299.63L318.40 298.64L319.40 297.66L320.40 296.67L321.40 295.64L322.40 294.58L323.40 293.48L324.40 292.36L325.40 291.24L326.40 290.13L327.40 289.02L328.40 287.92L329.40 286.82L330.40 285.74L331.40 284.72L332.40 283.80L333.40 283.01L334.40 282.35L335.40 281.79L336.40 281.31L337.40 280.88L338.40 280.51L339.40 280.23L340.40 280.03L341.40 279.94L342.40 279.96L343.40 280.10L344.40 280.33L345.40 280.65L346.40 281.09L347.40 281.67L348.40 282.45L349.40 283.42L350.40 284.55L351.40 285.79L352.40 287.09L353.40 288.44L354.40 289.85L355.40 291.31L356.40 292.79L357.40 294.22L358.40 295.53L359.40 296.68L360.40 297.66L361.40 298.51L362.40 299.27L363.40 299.98L364.40 300.66L365.40 301.33L366.40 301.98L367.40 302.62L368.40 303.23L369.40 303.83L370.40 304.41L371.40 304.98L372.40 305.53L373.40 306.07L374.40 306.59L375.40 307.11L376.40 307.61L377.40 308.09L378.40 308.56L379.40 309.02L380.40 309.46L381.40 309.89L382.40 310.32L383.40 310.73L384.40 311.13L385.40 311.51L386.40 311.89L387.40 312.24L388.40 312.58L389.40 312.90L390.40 313.20L391.40 313.49L392.40 313.76L393.40 314.02L394.40 314.27L395.40 314.51L396.40 314.74L397.40 314.96L398.40 315.17L399.40 315.37L400.40 315.57L401.40 315.76L402.40 315.95L403.40 316.13L404.40 316.30L405.40 316.46L406.40 316.62L407.40 316.75L408.40 316.87L409.00 316.94" fill="none" stroke="#F7751E" stroke-width="1.60" stroke-linejoin="round" stroke-linecap="round"/>
<path d="M255.40 322.70L256.40 322.71L257.40 322.71L258.40 322.72L259.40 322.73L260.40 322.73L261.40 322.74L262.40 322.74L263.40 322.75L264.40 322.75L265.40 322.76L266.40 322.76L267.40 322.77L268.40 322.77L269.40 322.78L270.40 322.78L271.40 322.78L272.40 322.79L273.40 322.79L274.40 322.79L275.40 322.79L276.40 322.80L277.40 322.80L278.40 322.80L279.40 322.80L280.40 322.80L281.40 322.80L282.40 322.80L283.40 322.80L284.40 322.80L285.40 322.80L286.40 322.80L287.40 322.80L288.40 322.80L289.40 322.80L290.40 322.80L291.40 322.80L292.40 322.80L293.40 322.80L294.40 322.79L295.40 322.78L296.40 322.75L297.40 322.71L298.40 322.64L299.40 322.56L300.40 322.46L301.40 322.35L302.40 322.23L303.40 322.11L304.40 321.97L305.40 321.82L306.40 321.65L307.40 321.45L308.40 321.24L309.40 320.99L310.40 320.72L311.40 320.44L312.40 320.14L313.40 319.82L314.40 319.48L315.40 319.13L316.40 318.74L317.40 318.33L318.40 317.88L319.40 317.40L320.40 316.90L321.40 316.37L322.40 315.83L323.40 315.28L324.40 314.73L325.40 314.17L326.40 313.61L327.40 313.04L328.40 312.46L329.40 311.85L330.40 311.21L331.40 310.57L332.40 309.93L333.40 309.33L334.40 308.79L335.40 308.33L336.40 307.94L337.40 307.62L338.40 307.34L339.40 307.09L340.40 306.86L341.40 306.66L342.40 306.50L343.40 306.37L344.40 306.29L345.40 306.26L346.40 306.28L347.40 306.34L348.40 306.44L349.40 306.58L350.40 306.73L351.40 306.89L352.40 307.07L353.40 307.24L354.40 307.43L355.40 307.63L356.40 307.84L357.40 308.07L358.40 308.31L359.40 308.54L360.40 308.78L361.40 309.02L362.40 309.24L363.40 309.45L364.40 309.65L365.40 309.83L366.40 310.00L367.40 310.16L368.40 310.32L369.40 310.47L370.40 310.62L371.40 310.76L372.40 310.90L373.40 311.04L374.40 311.18L375.40 311.33L376.40 311.47L377.40 311.61L378.40 311.76L379.40 311.91L380.40 312.07L381.40 312.23L382.40 312.40L383.40 312.58L384.40 312.75L385.40 312.93L386.40 313.11L387.40 313.29L388.40 313.47L389.40 313.64L390.40 313.81L391.40 313.97L392.40 314.13L393.40 314.27L394.40 314.41L395.40 314.54L396.40 314.67L397.40 314.79L398.40 314.90L399.40 315.02L400.40 315.13L401.40 315.23L402.40 315.34L403.40 315.43L404.40 315.53L405.40 315.62L406.40 315.70L407.40 315.77L408.40 315.83L409.00 315.87" fill="none" stroke="#A5A5A5" stroke-width="1.60" stroke-linejoin="round" stroke-linecap="round"/>
<path d="M255.40 321.71L256.40 321.72L257.40 321.74L258.40 321.75L259.40 321.77L260.40 321.78L261.40 321.80L262.40 321.81L263.40 321.83L264.40 321.84L265.40 321.86L266.40 321.87L267.40 321.88L268.40 321.89L269.40 321.91L270.40 321.92L271.40 321.93L272.40 321.94L273.40 321.95L274.40 321.95L275.40 321.96L276.40 321.97L277.40 321.98L278.40 321.98L279.40 321.99L280.40 321.99L281.40 321.99L282.40 322.00L283.40 322.00L284.40 322.00L285.40 322.00L286.40 322.00L287.40 322.00L288.40 322.00L289.40 322.00L290.40 322.00L291.40 322.00L292.40 322.00L293.40 321.99L294.40 321.96L295.40 321.89L296.40 321.74L297.40 321.50L298.40 321.17L299.40 320.72L300.40 320.13L301.40 319.35L302.40 318.40L303.40 317.34L304.40 316.22L305.40 315.10L306.40 314.00L307.40 312.90L308.40 311.79L309.40 310.65L310.40 309.50L311.40 308.31L312.40 307.11L313.40 305.91L314.40 304.73L315.40 303.57L316.40 302.44L317.40 301.32L318.40 300.24L319.40 299.20L320.40 298.20L321.40 297.26L322.40 296.36L323.40 295.51L324.40 294.70L325.40 293.93L326.40 293.21L327.40 292.54L328.40 291.90L329.40 291.30L330.40 290.74L331.40 290.22L332.40 289.74L333.40 289.31L334.40 288.92L335.40 288.57L336.40 288.25L337.40 287.96L338.40 287.73L339.40 287.58L340.40 287.51L341.40 287.53L342.40 287.62L343.40 287.79L344.40 288.02L345.40 288.32L346.40 288.71L347.40 289.24L348.40 289.95L349.40 290.84L350.40 291.89L351.40 293.01L352.40 294.16L353.40 295.31L354.40 296.46L355.40 297.61L356.40 298.76L357.40 299.87L358.40 300.93L359.40 301.91L360.40 302.80L361.40 303.62L362.40 304.38L363.40 305.08L364.40 305.72L365.40 306.30L366.40 306.83L367.40 307.33L368.40 307.79L369.40 308.23L370.40 308.64L371.40 309.04L372.40 309.41L373.40 309.78L374.40 310.13L375.40 310.47L376.40 310.80L377.40 311.14L378.40 311.47L379.40 311.81L380.40 312.15L381.40 312.50L382.40 312.86L383.40 313.21L384.40 313.57L385.40 313.92L386.40 314.25L387.40 314.57L388.40 314.86L389.40 315.13L390.40 315.37L391.40 315.58L392.40 315.79L393.40 315.97L394.40 316.15L395.40 316.32L396.40 316.48L397.40 316.63L398.40 316.77L399.40 316.91L400.40 317.05L401.40 317.18L402.40 317.30L403.40 317.42L404.40 317.54L405.40 317.65L406.40 317.75L407.40 317.84L408.40 317.91L409.00 317.96" fill="none" stroke="#FFBF00" stroke-width="1.60" stroke-linejoin="round" stroke-linecap="round"/>
<path d="M255.20 246.70 V327.00 H408.56" fill="none" stroke="#000" stroke-width="1.60"/>
<path d="M252.60 327.00 H255.20" stroke="#000" stroke-width="1.60"/>
<text transform="translate(247.80 330.50) scale(1 1.0)" text-anchor="end" class="tk">0</text>
<path d="M252.60 310.94 H255.20" stroke="#000" stroke-width="1.60"/>
<text transform="translate(247.80 314.44) scale(1 1.0)" text-anchor="end" class="tk">0.1</text>
<path d="M252.60 294.88 H255.20" stroke="#000" stroke-width="1.60"/>
<text transform="translate(247.80 298.38) scale(1 1.0)" text-anchor="end" class="tk">0.2</text>
<path d="M252.60 278.82 H255.20" stroke="#000" stroke-width="1.60"/>
<text transform="translate(247.80 282.32) scale(1 1.0)" text-anchor="end" class="tk">0.3</text>
<path d="M252.60 262.76 H255.20" stroke="#000" stroke-width="1.60"/>
<text transform="translate(247.80 266.26) scale(1 1.0)" text-anchor="end" class="tk">0.4</text>
<path d="M252.60 246.70 H255.20" stroke="#000" stroke-width="1.60"/>
<text transform="translate(247.80 250.20) scale(1 1.0)" text-anchor="end" class="tk">0.5</text>
<path d="M255.40 327.00 V329.60" stroke="#000" stroke-width="1.60"/>
<text transform="translate(255.40 340.20) scale(1 1.0)" text-anchor="middle" class="tk">30</text>
<path d="M299.16 327.00 V329.60" stroke="#000" stroke-width="1.60"/>
<text transform="translate(299.16 340.20) scale(1 1.0)" text-anchor="middle" class="tk">50</text>
<path d="M342.92 327.00 V329.60" stroke="#000" stroke-width="1.60"/>
<text transform="translate(342.92 340.20) scale(1 1.0)" text-anchor="middle" class="tk">70</text>
<path d="M386.68 327.00 V329.60" stroke="#000" stroke-width="1.60"/>
<text transform="translate(386.68 340.20) scale(1 1.0)" text-anchor="middle" class="tk">90</text>
<text transform="translate(331.88 353.30) scale(1 1.0)" text-anchor="middle" class="ti">Temperature (°C)</text>
<text transform="translate(232.30 287.00) rotate(-90)" text-anchor="middle" class="tn">Tan&#948;</text>
<text transform="translate(268.70 227.40) scale(1 0.95)" class="lb">(d)</text>
<path d="M228.30 375.70 H247.80" stroke="#1E98DA" stroke-width="2"/>
<text transform="translate(249.30 378.50) scale(1 1.0)" class="lg">S4G0</text>
<path d="M276.10 375.70 H295.60" stroke="#F7751E" stroke-width="2"/>
<text transform="translate(297.10 378.50) scale(1 1.0)" class="lg">S4G1</text>
<path d="M323.30 375.70 H342.80" stroke="#A5A5A5" stroke-width="2"/>
<text transform="translate(344.30 378.50) scale(1 1.0)" class="lg">S4G2</text>
<path d="M371.10 375.70 H390.60" stroke="#FFBF00" stroke-width="2"/>
<text transform="translate(392.10 378.50) scale(1 1.0)" class="lg">S4G3</text>
<path d="M143.30 495.40L144.30 495.40L145.30 495.40L146.30 495.40L147.30 495.40L148.30 495.39L149.30 495.39L150.30 495.39L151.30 495.39L152.30 495.38L153.30 495.38L154.30 495.38L155.30 495.37L156.30 495.37L157.30 495.36L158.30 495.36L159.30 495.35L160.30 495.35L161.30 495.34L162.30 495.34L163.30 495.33L164.30 495.32L165.30 495.32L166.30 495.31L167.30 495.30L168.30 495.30L169.30 495.29L170.30 495.28L171.30 495.27L172.30 495.27L173.30 495.26L174.30 495.25L175.30 495.24L176.30 495.23L177.30 495.22L178.30 495.21L179.30 495.21L180.30 495.19L181.30 495.18L182.30 495.17L183.30 495.15L184.30 495.13L185.30 495.10L186.30 495.08L187.30 495.05L188.30 495.02L189.30 495.00L190.30 494.97L191.30 494.94L192.30 494.92L193.30 494.89L194.30 494.87L195.30 494.85L196.30 494.83L197.30 494.82L198.30 494.81L199.30 494.82L200.30 494.84L201.30 494.89L202.30 494.97L203.30 495.08L204.30 495.20L205.30 495.32L206.30 495.43L207.30 495.52L208.30 495.59L209.30 495.65L210.30 495.69L211.30 495.72L212.30 495.75L213.30 495.77L214.30 495.78L215.30 495.76L216.30 495.71L217.30 495.62L218.30 495.49L219.30 495.32L220.30 495.08L221.30 494.72L222.30 494.20L223.30 493.45L224.30 492.46L225.30 491.23L226.30 489.75L227.30 487.96L228.30 485.82L229.30 483.36L230.30 480.59L231.30 477.56L232.30 474.33L233.30 470.99L234.30 467.64L235.30 464.33L236.30 461.06L237.30 457.79L238.30 454.49L239.30 451.12L240.30 447.66L241.30 444.12L242.30 440.59L243.30 437.15L244.30 433.89L245.30 430.87L246.30 428.13L247.30 425.68L248.30 423.53L249.30 421.73L250.30 420.26L251.30 419.14L252.30 418.33L253.30 417.81L254.30 417.56L255.30 417.55L256.30 417.80L257.30 418.30L258.30 419.03L259.30 420.01L260.30 421.21L261.30 422.59L262.30 424.14L263.30 425.81L264.30 427.60L265.30 429.47L266.30 431.39L267.30 433.34L268.30 435.31L269.30 437.31L270.30 439.32L271.30 441.34L272.30 443.32L273.30 445.23L274.30 447.07L275.30 448.84L276.30 450.55L277.30 452.19L278.30 453.75L279.30 455.23L280.30 456.62L281.30 457.91L282.30 459.11L283.30 460.24L284.30 461.33L285.30 462.41L286.30 463.48L287.30 464.57L288.30 465.67L289.30 466.78L290.30 467.89L291.30 468.99L292.30 470.07L293.30 471.13L294.30 472.16L295.30 473.17L296.30 474.15L297.30 475.09L298.30 476.00L299.30 476.87L300.30 477.69L301.30 478.46L302.30 479.19L303.30 479.88L304.30 480.53L305.30 481.14L306.30 481.72L307.30 482.26L308.30 482.75L309.30 483.17L310.30 483.54L311.30 483.86L312.30 484.15L313.30 484.41L314.30 484.66L315.30 484.88L316.30 485.07L317.30 485.24L318.30 485.39L319.30 485.51L320.30 485.61L321.30 485.69L322.30 485.77L323.30 485.84L324.30 485.90L325.30 485.97L326.30 486.02L327.30 486.08L328.30 486.12L329.30 486.17L330.30 486.20L331.30 486.23L332.30 486.26L333.30 486.28L334.30 486.29L335.30 486.30L335.40 486.30" fill="none" stroke="#1E98DA" stroke-width="1.60" stroke-linejoin="round" stroke-linecap="round"/>
<path d="M143.30 493.50L144.30 493.50L145.30 493.50L146.30 493.50L147.30 493.50L148.30 493.50L149.30 493.50L150.30 493.50L151.30 493.50L152.30 493.50L153.30 493.50L154.30 493.50L155.30 493.50L156.30 493.50L157.30 493.50L158.30 493.50L159.30 493.50L160.30 493.50L161.30 493.50L162.30 493.50L163.30 493.50L164.30 493.50L165.30 493.50L166.30 493.50L167.30 493.50L168.30 493.50L169.30 493.50L170.30 493.50L171.30 493.50L172.30 493.50L173.30 493.50L174.30 493.50L175.30 493.50L176.30 493.50L177.30 493.50L178.30 493.50L179.30 493.50L180.30 493.49L181.30 493.48L182.30 493.47L183.30 493.44L184.30 493.41L185.30 493.37L186.30 493.32L187.30 493.26L188.30 493.17L189.30 493.08L190.30 492.96L191.30 492.84L192.30 492.70L193.30 492.56L194.30 492.40L195.30 492.22L196.30 492.02L197.30 491.78L198.30 491.50L199.30 491.18L200.30 490.79L201.30 490.33L202.30 489.80L203.30 489.23L204.30 488.63L205.30 488.03L206.30 487.43L207.30 486.83L208.30 486.23L209.30 485.63L210.30 485.03L211.30 484.43L212.30 483.83L213.30 483.23L214.30 482.61L215.30 481.98L216.30 481.32L217.30 480.64L218.30 479.96L219.30 479.28L220.30 478.61L221.30 477.95L222.30 477.30L223.30 476.65L224.30 476.01L225.30 475.38L226.30 474.76L227.30 474.15L228.30 473.54L229.30 472.94L230.30 472.34L231.30 471.74L232.30 471.15L233.30 470.56L234.30 469.99L235.30 469.43L236.30 468.90L237.30 468.38L238.30 467.90L239.30 467.44L240.30 467.00L241.30 466.57L242.30 466.15L243.30 465.73L244.30 465.32L245.30 464.93L246.30 464.58L247.30 464.29L248.30 464.05L249.30 463.89L250.30 463.82L251.30 463.85L252.30 463.98L253.30 464.18L254.30 464.44L255.30 464.75L256.30 465.11L257.30 465.53L258.30 466.01L259.30 466.54L260.30 467.11L261.30 467.72L262.30 468.37L263.30 469.08L264.30 469.85L265.30 470.69L266.30 471.56L267.30 472.43L268.30 473.26L269.30 474.02L270.30 474.70L271.30 475.31L272.30 475.85L273.30 476.36L274.30 476.83L275.30 477.28L276.30 477.71L277.30 478.11L278.30 478.49L279.30 478.86L280.30 479.21L281.30 479.55L282.30 479.86L283.30 480.16L284.30 480.44L285.30 480.72L286.30 480.99L287.30 481.26L288.30 481.53L289.30 481.81L290.30 482.10L291.30 482.40L292.30 482.71L293.30 483.02L294.30 483.34L295.30 483.65L296.30 483.96L297.30 484.26L298.30 484.54L299.30 484.81L300.30 485.07L301.30 485.32L302.30 485.57L303.30 485.82L304.30 486.06L305.30 486.28L306.30 486.49L307.30 486.66L308.30 486.80L309.30 486.91L310.30 486.99L311.30 487.05L312.30 487.10L313.30 487.14L314.30 487.19L315.30 487.22L316.30 487.26L317.30 487.29L318.30 487.33L319.30 487.36L320.30 487.39L321.30 487.41L322.30 487.44L323.30 487.46L324.30 487.48L325.30 487.50L326.30 487.52L327.30 487.54L328.30 487.55L329.30 487.56L330.30 487.57L331.30 487.58L332.30 487.59L333.30 487.59L334.30 487.60L335.30 487.60L335.40 487.60" fill="none" stroke="#F7751E" stroke-width="1.60" stroke-linejoin="round" stroke-linecap="round"/>
<path d="M143.30 493.00L144.30 493.00L145.30 493.00L146.30 493.00L147.30 493.00L148.30 493.00L149.30 493.00L150.30 493.00L151.30 493.00L152.30 493.00L153.30 493.00L154.30 493.00L155.30 493.00L156.30 493.00L157.30 493.00L158.30 493.00L159.30 493.00L160.30 493.00L161.30 493.00L162.30 493.00L163.30 493.00L164.30 493.00L165.30 493.00L166.30 493.00L167.30 493.00L168.30 493.00L169.30 493.00L170.30 493.00L171.30 493.00L172.30 493.00L173.30 493.00L174.30 493.00L175.30 493.00L176.30 493.00L177.30 493.00L178.30 493.00L179.30 493.00L180.30 493.00L181.30 492.99L182.30 492.99L183.30 492.98L184.30 492.97L185.30 492.96L186.30 492.94L187.30 492.92L188.30 492.90L189.30 492.88L190.30 492.85L191.30 492.83L192.30 492.80L193.30 492.76L194.30 492.73L195.30 492.69L196.30 492.65L197.30 492.61L198.30 492.57L199.30 492.52L200.30 492.46L201.30 492.38L202.30 492.28L203.30 492.15L204.30 492.00L205.30 491.84L206.30 491.65L207.30 491.45L208.30 491.24L209.30 491.02L210.30 490.80L211.30 490.58L212.30 490.36L213.30 490.15L214.30 489.95L215.30 489.76L216.30 489.57L217.30 489.40L218.30 489.23L219.30 489.06L220.30 488.89L221.30 488.72L222.30 488.54L223.30 488.34L224.30 488.14L225.30 487.91L226.30 487.65L227.30 487.37L228.30 487.03L229.30 486.64L230.30 486.19L231.30 485.67L232.30 485.10L233.30 484.49L234.30 483.84L235.30 483.17L236.30 482.48L237.30 481.78L238.30 481.09L239.30 480.41L240.30 479.72L241.30 479.03L242.30 478.32L243.30 477.60L244.30 476.88L245.30 476.18L246.30 475.53L247.30 474.93L248.30 474.39L249.30 473.90L250.30 473.46L251.30 473.11L252.30 472.86L253.30 472.72L254.30 472.68L255.30 472.70L256.30 472.77L257.30 472.86L258.30 473.00L259.30 473.18L260.30 473.41L261.30 473.70L262.30 474.04L263.30 474.41L264.30 474.79L265.30 475.18L266.30 475.57L267.30 475.94L268.30 476.30L269.30 476.66L270.30 477.02L271.30 477.38L272.30 477.75L273.30 478.11L274.30 478.47L275.30 478.83L276.30 479.18L277.30 479.51L278.30 479.83L279.30 480.14L280.30 480.43L281.30 480.71L282.30 480.98L283.30 481.25L284.30 481.52L285.30 481.77L286.30 482.03L287.30 482.27L288.30 482.50L289.30 482.73L290.30 482.93L291.30 483.13L292.30 483.30L293.30 483.46L294.30 483.60L295.30 483.72L296.30 483.83L297.30 483.93L298.30 484.03L299.30 484.12L300.30 484.20L301.30 484.28L302.30 484.35L303.30 484.42L304.30 484.49L305.30 484.55L306.30 484.61L307.30 484.66L308.30 484.72L309.30 484.77L310.30 484.81L311.30 484.86L312.30 484.90L313.30 484.95L314.30 484.99L315.30 485.04L316.30 485.08L317.30 485.12L318.30 485.16L319.30 485.20L320.30 485.24L321.30 485.28L322.30 485.31L323.30 485.35L324.30 485.38L325.30 485.41L326.30 485.44L327.30 485.47L328.30 485.49L329.30 485.51L330.30 485.53L331.30 485.55L332.30 485.57L333.30 485.58L334.30 485.59L335.30 485.59L335.40 485.60" fill="none" stroke="#A5A5A5" stroke-width="1.60" stroke-linejoin="round" stroke-linecap="round"/>
<path d="M143.30 493.50L144.30 493.50L145.30 493.50L146.30 493.50L147.30 493.50L148.30 493.50L149.30 493.50L150.30 493.50L151.30 493.50L152.30 493.50L153.30 493.50L154.30 493.50L155.30 493.50L156.30 493.50L157.30 493.50L158.30 493.50L159.30 493.50L160.30 493.50L161.30 493.50L162.30 493.50L163.30 493.50L164.30 493.50L165.30 493.50L166.30 493.50L167.30 493.50L168.30 493.50L169.30 493.50L170.30 493.50L171.30 493.50L172.30 493.50L173.30 493.50L174.30 493.50L175.30 493.50L176.30 493.50L177.30 493.50L178.30 493.50L179.30 493.50L180.30 493.49L181.30 493.49L182.30 493.47L183.30 493.46L184.30 493.43L185.30 493.40L186.30 493.37L187.30 493.34L188.30 493.30L189.30 493.25L190.30 493.21L191.30 493.16L192.30 493.12L193.30 493.07L194.30 493.03L195.30 492.98L196.30 492.94L197.30 492.90L198.30 492.86L199.30 492.83L200.30 492.80L201.30 492.77L202.30 492.74L203.30 492.72L204.30 492.70L205.30 492.68L206.30 492.66L207.30 492.64L208.30 492.62L209.30 492.60L210.30 492.57L211.30 492.54L212.30 492.51L213.30 492.47L214.30 492.42L215.30 492.35L216.30 492.24L217.30 492.10L218.30 491.92L219.30 491.70L220.30 491.44L221.30 491.14L222.30 490.80L223.30 490.43L224.30 490.03L225.30 489.60L226.30 489.13L227.30 488.60L228.30 487.97L229.30 487.21L230.30 486.31L231.30 485.30L232.30 484.22L233.30 483.09L234.30 481.95L235.30 480.78L236.30 479.58L237.30 478.36L238.30 477.13L239.30 475.93L240.30 474.77L241.30 473.65L242.30 472.55L243.30 471.50L244.30 470.49L245.30 469.55L246.30 468.67L247.30 467.86L248.30 467.10L249.30 466.39L250.30 465.76L251.30 465.22L252.30 464.80L253.30 464.49L254.30 464.29L255.30 464.16L256.30 464.10L257.30 464.12L258.30 464.22L259.30 464.41L260.30 464.69L261.30 465.04L262.30 465.44L263.30 465.88L264.30 466.33L265.30 466.78L266.30 467.21L267.30 467.61L268.30 467.99L269.30 468.35L270.30 468.70L271.30 469.04L272.30 469.38L273.30 469.72L274.30 470.07L275.30 470.41L276.30 470.76L277.30 471.12L278.30 471.48L279.30 471.85L280.30 472.23L281.30 472.62L282.30 473.02L283.30 473.42L284.30 473.84L285.30 474.25L286.30 474.68L287.30 475.11L288.30 475.55L289.30 475.99L290.30 476.44L291.30 476.89L292.30 477.35L293.30 477.81L294.30 478.29L295.30 478.77L296.30 479.27L297.30 479.78L298.30 480.28L299.30 480.75L300.30 481.19L301.30 481.60L302.30 481.99L303.30 482.36L304.30 482.72L305.30 483.06L306.30 483.37L307.30 483.66L308.30 483.91L309.30 484.13L310.30 484.33L311.30 484.51L312.30 484.69L313.30 484.85L314.30 485.01L315.30 485.17L316.30 485.32L317.30 485.47L318.30 485.62L319.30 485.76L320.30 485.89L321.30 486.02L322.30 486.14L323.30 486.26L324.30 486.37L325.30 486.47L326.30 486.56L327.30 486.64L328.30 486.72L329.30 486.79L330.30 486.85L331.30 486.90L332.30 486.93L333.30 486.96L334.30 486.98L335.30 486.99L335.40 487.00" fill="none" stroke="#FFBF00" stroke-width="1.60" stroke-linejoin="round" stroke-linecap="round"/>
<path d="M143.20 412.60 V498.60 H335.45" fill="none" stroke="#000" stroke-width="1.60"/>
<path d="M140.60 498.60 H143.20" stroke="#000" stroke-width="1.60"/>
<text transform="translate(135.80 502.10) scale(1 1.0)" text-anchor="end" class="tk">0</text>
<path d="M140.60 481.40 H143.20" stroke="#000" stroke-width="1.60"/>
<text transform="translate(135.80 484.90) scale(1 1.0)" text-anchor="end" class="tk">0.1</text>
<path d="M140.60 464.20 H143.20" stroke="#000" stroke-width="1.60"/>
<text transform="translate(135.80 467.70) scale(1 1.0)" text-anchor="end" class="tk">0.2</text>
<path d="M140.60 447.00 H143.20" stroke="#000" stroke-width="1.60"/>
<text transform="translate(135.80 450.50) scale(1 1.0)" text-anchor="end" class="tk">0.3</text>
<path d="M140.60 429.80 H143.20" stroke="#000" stroke-width="1.60"/>
<text transform="translate(135.80 433.30) scale(1 1.0)" text-anchor="end" class="tk">0.4</text>
<path d="M140.60 412.60 H143.20" stroke="#000" stroke-width="1.60"/>
<text transform="translate(135.80 416.10) scale(1 1.0)" text-anchor="end" class="tk">0.5</text>
<path d="M143.30 498.60 V501.20" stroke="#000" stroke-width="1.60"/>
<text transform="translate(143.30 511.80) scale(1 1.0)" text-anchor="middle" class="tk">30</text>
<path d="M198.20 498.60 V501.20" stroke="#000" stroke-width="1.60"/>
<text transform="translate(198.20 511.80) scale(1 1.0)" text-anchor="middle" class="tk">50</text>
<path d="M253.10 498.60 V501.20" stroke="#000" stroke-width="1.60"/>
<text transform="translate(253.10 511.80) scale(1 1.0)" text-anchor="middle" class="tk">70</text>
<path d="M308.00 498.60 V501.20" stroke="#000" stroke-width="1.60"/>
<text transform="translate(308.00 511.80) scale(1 1.0)" text-anchor="middle" class="tk">90</text>
<text transform="translate(239.33 525.30) scale(1 1.0)" text-anchor="middle" class="ti">Temperature (°C)</text>
<text transform="translate(120.30 456.00) rotate(-90)" text-anchor="middle" class="tn">Tan&#948;</text>
<text transform="translate(169.20 405.50) scale(1 0.95)" class="lb">(e)</text>
<path d="M134.60 538.10 H154.10" stroke="#1E98DA" stroke-width="2"/>
<text transform="translate(155.60 540.90) scale(1 1.0)" class="lg">S5G0</text>
<path d="M182.80 538.10 H202.30" stroke="#F7751E" stroke-width="2"/>
<text transform="translate(203.80 540.90) scale(1 1.0)" class="lg">S5G1</text>
<path d="M232.00 538.10 H251.50" stroke="#A5A5A5" stroke-width="2"/>
<text transform="translate(253.00 540.90) scale(1 1.0)" class="lg">S5G2</text>
<path d="M280.00 538.10 H299.50" stroke="#FFBF00" stroke-width="2"/>
<text transform="translate(301.00 540.90) scale(1 1.0)" class="lg">S5G3</text>
<rect x="9" y="6.7" width="443.7" height="536" fill="none" stroke="#000" stroke-width="2"/>
</g>
</svg>
</body></html>
